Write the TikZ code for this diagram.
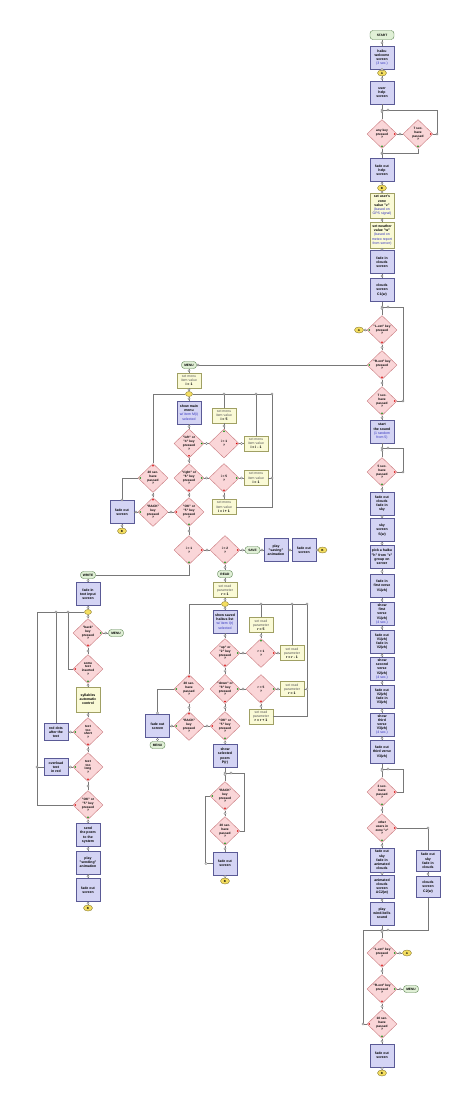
\documentclass[tikz,border=0pt]{standalone}
\usepackage{fontspec}
\setmainfont{Liberation Sans}
\usepackage{tikz}
\usetikzlibrary{shapes.geometric}
\usetikzlibrary{calc}
\usetikzlibrary{decorations.markings}

\definecolor{actfill}{RGB}{212,212,244}
\definecolor{actline}{RGB}{90,90,150}
\definecolor{setfill}{RGB}{250,250,214}
\definecolor{setline}{RGB}{160,160,100}
\definecolor{askfill}{RGB}{250,214,216}
\definecolor{askline}{RGB}{200,120,125}
\definecolor{endfill}{RGB}{224,240,214}
\definecolor{endline}{RGB}{90,130,80}
\definecolor{jumpfill}{RGB}{244,222,96}
\definecolor{jumpline}{RGB}{140,125,50}
\definecolor{wirecol}{RGB}{120,120,120}
\definecolor{notecol}{RGB}{50,50,190}

\newcommand{\notetxt}[1]{{\mdseries\color{notecol}#1}}
\newcommand{\softtxt}[1]{{\mdseries\color{black!65}#1}}
\newcommand{\markno}[2]{\fill[red!85!black] ($(#1.#2)!2.4pt!(#1.center)$) circle (0.9pt);}
\newcommand{\markyes}[2]{\fill[green!55!black] ($(#1.#2)!2.4pt!(#1.center)$) circle (0.9pt);}
\newcommand{\hole}[1]{\filldraw[draw=wirecol, fill=white, line width=0.3pt] (#1) circle (1.2pt);}

\begin{document}
\begin{tikzpicture}
 [ x=1pt, y=-1pt
 , every node/.style={font=\fontsize{3.5}{4.2}\selectfont\bfseries, align=center, inner sep=0.5pt}
 , action/.style={draw=actline, fill=actfill, minimum width=24pt, minimum height=23pt}
 , setter/.style={draw=setline, fill=setfill, minimum width=24pt, minimum height=15pt}
 , question/.style={diamond, draw=askline, fill=askfill, minimum width=30pt, minimum height=29pt, inner sep=0pt, font=\fontsize{3.2}{3.8}\selectfont\bfseries}
 , terminal/.style={draw=endline, fill=endfill, rounded corners=3pt, minimum width=15pt, minimum height=7pt, font=\fontsize{3.2}{3.8}\selectfont\bfseries}
 , jumper/.style={ellipse, draw=jumpline, fill=jumpfill, minimum width=9pt, minimum height=6pt, inner sep=0pt, font=\fontsize{3}{3}\selectfont\bfseries}
 , loopmark/.style={jumper, minimum width=7pt, minimum height=5pt}
 , wire/.style={draw=wirecol, line width=0.4pt}
 , link/.style={wire, postaction={decorate}, decoration={markings, mark=at position 0.5 with {\filldraw[draw=wirecol, fill=white, line width=0.3pt] (0,0) circle (1.2pt);}}}
 ]
  \fill[white] (0,0) rectangle (474,1106);
  \useasboundingbox (0,0) rectangle (474,1106);

  % main column
  \node[terminal, minimum width=24pt, minimum height=9pt] (start) at (382,35) {START};
  \node[action] (welcome) at (382,57.5) {haiku\\welcome\\screen\\\notetxt{(3 sec.)}};
  \node[jumper] (toA) at (382,73) {A};
  \node[action] (help) at (382,92.5) {user\\help\\screen};
  \node[question] (anykey) at (382,134) {any key\\pressed\\?};
  \node[question] (wait7) at (418,134) {7 sec.\\have\\passed\\?};
  \node[action] (fadehelp) at (382,170) {fade out\\help\\screen};
  \node[jumper] (toB) at (382,188) {B};
  \node[setter, minimum height=25pt] (zone) at (382,205.5) {set user's\\zone\\value "z"\\\notetxt{(based on}\\\notetxt{GPS signal)}};
  \node[setter, minimum height=26pt] (weather) at (382,235) {set weather\\value "w"\\\notetxt{(based on}\\\notetxt{meteo report}\\\notetxt{from server)}};
  \node[action] (fadein) at (382,262) {fade in\\clouds\\screen};
  \node[action] (clouds) at (382,290) {clouds\\screen\\C1(w)};
  \node[question] (lext) at (382,330) {"L-ext" key\\pressed\\?};
  \node[jumper] (lextA) at (359,330) {A};
  \node[question] (rext) at (382,365) {"R-ext" key\\pressed\\?};
  \node[question] (wait7b) at (382,401) {7 sec.\\have\\passed\\?};
  \node[action] (sound) at (382,431.5) {start\\the sound\\\notetxt{(1 random}\\\notetxt{from 5)}};
  \node[question] (wait5) at (382,472) {5 sec.\\have\\passed\\?};
  \node[action] (fadesky) at (382,503.5) {fade out\\clouds\\fade in\\sky};
  \node[action] (sky) at (382,530) {sky\\screen\\S(w)};
  \node[action] (pick) at (382,557) {pick a haiku\\"h" from "z"\\group on\\server};
  \node[action] (fadev1) at (382,586) {fade in\\first verse\\V1(zh)};
  \node[action] (showv1) at (382,614) {show\\first\\verse\\V1(zh)\\\notetxt{(4 sec.)}};
  \node[action] (fadev12) at (382,641.5) {fade out\\V1(zh)\\fade in\\V2(zh)};
  \node[action] (showv2) at (382,669) {show\\second\\verse\\V2(zh)\\\notetxt{(4 sec.)}};
  \node[action] (fadev23) at (382,696.5) {fade out\\V2(zh)\\fade in\\V3(zh)};
  \node[action] (showv3) at (382,724.5) {show\\third\\verse\\V3(zh)\\\notetxt{(4 sec.)}};
  \node[action] (fadev3) at (382,752) {fade out\\third verse\\V3(zh)};
  \node[question] (wait3) at (382,792) {3 sec.\\have\\passed\\?};
  \node[question] (others) at (382,828) {other\\users in\\zone "z"\\?};
  \node[action, minimum height=24pt] (fadeanim) at (382,860) {fade out\\sky\\fade in\\animated\\clouds};
  \node[action] (animclouds) at (382,886.5) {animated\\clouds\\screen\\AC2(w)};
  \node[action, minimum height=21pt] (fadeclouds) at (428,861) {fade out\\sky\\fade in\\clouds};
  \node[action, minimum height=21pt] (clouds2) at (428,887) {clouds\\screen\\C2(w)};
  \node[action] (bells) at (382,913.5) {play\\wind-bells\\sound};
  \node[question] (lext2) at (382,953) {"L-ext" key\\pressed\\?};
  \node[jumper] (lext2A) at (407,953) {A};
  \node[question] (rext2) at (382,989) {"R-ext" key\\pressed\\?};
  \node[terminal] (menu2) at (411,989) {MENU};
  \node[question] (wait10) at (382,1024) {10 sec.\\have\\passed\\?};
  \node[action] (fadeend) at (382,1055.5) {fade out\\screen};
  \node[jumper] (endB) at (382,1073) {B};

  % menu
  \node[terminal] (menu) at (189,365) {MENU};
  \node[setter] (seti1) at (189,380.5) {\softtxt{set menu}\\\softtxt{item value}\\i = 1};
  \node[loopmark] (loopm) at (189,394) {};
  \node[action] (mainmenu) at (189,412.5) {show main\\menu\\\notetxt{w/ item M(i)}\\\notetxt{selected}};
  \node[question] (left4) at (189,443.5) {"left" or\\"4" key\\pressed\\?};
  \node[question] (ione) at (224,443.5) {i = 1\\?};
  \node[setter] (seti5) at (224,415.5) {\softtxt{set menu}\\\softtxt{item value}\\i = 5};
  \node[setter] (setdec) at (256,443.5) {\softtxt{set menu}\\\softtxt{item value}\\i = i - 1};
  \node[question] (right6) at (189,478) {"right" or\\"6" key\\pressed\\?};
  \node[question] (ifive) at (224,478) {i = 5\\?};
  \node[setter] (setone) at (256,478) {\softtxt{set menu}\\\softtxt{item value}\\i = 1};
  \node[setter] (setinc) at (224,507) {\softtxt{set menu}\\\softtxt{item value}\\i = i + 1};
  \node[question] (ok1) at (189,512) {"OK" or\\"5" key\\pressed\\?};
  \node[question] (back1) at (153,512) {"BACK"\\key\\pressed\\?};
  \node[question] (wait20m) at (153,478) {20 sec.\\have\\passed\\?};
  \node[action] (fademenu) at (122,512) {fade out\\screen};
  \node[jumper] (menuB) at (122,531) {B};
  \node[question] (ichk1) at (189,550) {i = 1\\?};
  \node[question] (ichk2) at (225,550) {i = 2\\?};
  \node[terminal] (save) at (252.5,550) {SAVE};
  \node[action] (saving) at (276,550) {play\\"saving"\\animation};
  \node[action] (fadesave) at (304,550) {fade out\\screen};
  \node[jumper] (saveB) at (322.5,550) {B};

  % read
  \node[terminal] (read) at (225,574) {READ};
  \node[setter] (setr1) at (225,590) {\softtxt{set read}\\\softtxt{parameter}\\r = 1};
  \node[loopmark] (loopr) at (225,604) {};
  \node[action] (listing) at (225,621.5) {show saved\\haikus list\\\notetxt{w/ item I(r)}\\\notetxt{selected}};
  \node[question] (up2) at (225,653) {"up" or\\"2" key\\pressed\\?};
  \node[question] (rone) at (261,653) {r = 1\\?};
  \node[setter] (setr5) at (261,625) {\softtxt{set read}\\\softtxt{parameter}\\r = 5};
  \node[setter] (setrdec) at (292,653) {\softtxt{set read}\\\softtxt{parameter}\\r = r - 1};
  \node[question] (down8) at (225,689) {"down" or\\"8" key\\pressed\\?};
  \node[question] (rfive) at (261,689) {r = 5\\?};
  \node[setter] (setrone) at (292,689) {\softtxt{set read}\\\softtxt{parameter}\\r = 1};
  \node[setter] (setrinc) at (261,716.5) {\softtxt{set read}\\\softtxt{parameter}\\r = r + 1};
  \node[question] (ok2) at (225,726) {"OK" or\\"5" key\\pressed\\?};
  \node[question] (back2) at (189,726) {"BACK"\\key\\pressed\\?};
  \node[question] (wait20r) at (189,689) {20 sec.\\have\\passed\\?};
  \node[action] (faderead) at (157.5,726) {fade out\\screen};
  \node[terminal] (menur) at (157.5,745) {MENU};
  \node[action] (poem) at (225,756) {show\\selected\\poem\\P(r)};
  \node[question] (back3) at (225,796) {"BACK"\\key\\pressed\\?};
  \node[question] (wait20p) at (225,831) {20 sec.\\have\\passed\\?};
  \node[action] (fadepoem) at (225,863.5) {fade out\\screen};
  \node[jumper] (poemB) at (225,881) {B};

  % write
  \node[terminal] (write) at (88,575) {WRITE};
  \node[action] (fadewrite) at (88,594) {fade in\\text input\\screen};
  \node[loopmark] (loopw) at (88,612) {};
  \node[question] (backw) at (88,633) {"back"\\key\\pressed\\?};
  \node[terminal] (menuw) at (116,633) {MENU};
  \node[question] (some) at (88,669) {some\\text\\inserted\\?};
  \node[setter, minimum height=25pt] (syllables) at (88,699.5) {syllables\\automatic\\control};
  \node[question] (tooshort) at (88,732) {text\\too\\short\\?};
  \node[action, minimum height=17pt] (reddots) at (56,732) {red dots\\after the\\text};
  \node[question] (toolong) at (88,767) {text\\too\\long\\?};
  \node[action, minimum height=17pt] (overload) at (56,767) {overload\\text\\in red};
  \node[question] (okw) at (88,805) {"OK" or\\"5" key\\pressed\\?};
  \node[action] (send) at (88,835) {send\\the poem\\to the\\system};
  \node[action] (sending) at (88,862.5) {play\\"sending"\\animation};
  \node[action] (fadewrite2) at (88,890) {fade out\\screen};
  \node[jumper] (writeB) at (88,908) {B};

  % straight links
  \foreach \a/\b in {start/welcome, welcome/toA, toA/help, help/anykey, anykey/fadehelp,
    fadehelp/toB, toB/zone, zone/weather, weather/fadein, fadein/clouds, clouds/lext,
    lext/rext, rext/wait7b, wait7b/sound, sound/wait5, wait5/fadesky, fadesky/sky,
    sky/pick, pick/fadev1, fadev1/showv1, showv1/fadev12, fadev12/showv2, showv2/fadev23,
    fadev23/showv3, showv3/fadev3, fadev3/wait3, wait3/others, others/fadeanim,
    fadeanim/animclouds, animclouds/bells, bells/lext2, lext2/rext2, rext2/wait10,
    wait10/fadeend, fadeend/endB, anykey/wait7, lext/lextA, lext2/lext2A, rext2/menu2,
    fadeclouds/clouds2,
    menu/seti1, seti1/loopm, loopm/mainmenu, mainmenu/left4, left4/right6, right6/ok1,
    ok1/ichk1, left4/ione, ione/seti5, ione/setdec, right6/ifive, ifive/setone,
    ifive/setinc, ok1/back1, back1/wait20m, back1/fademenu, fademenu/menuB,
    ichk1/ichk2, ichk2/save, save/saving, saving/fadesave, fadesave/saveB, ichk2/read,
    read/setr1, setr1/loopr, loopr/listing, listing/up2, up2/down8, down8/ok2, ok2/poem,
    up2/rone, rone/setr5, rone/setrdec, down8/rfive, rfive/setrone, rfive/setrinc,
    ok2/back2, back2/wait20r, back2/faderead, faderead/menur,
    poem/back3, back3/wait20p, wait20p/fadepoem, fadepoem/poemB,
    write/fadewrite, fadewrite/loopw, loopw/backw, backw/some, some/syllables,
    syllables/tooshort, tooshort/toolong, toolong/okw, okw/send, send/sending,
    sending/fadewrite2, fadewrite2/writeB, backw/menuw, tooshort/reddots, toolong/overload}
    \draw[link] (\a) -- (\b);

  % loops and branches
  \draw[wire] (wait7.east) -| (437,110) -- (382,110);
  \draw[wire] (wait7.south) |- (382,153);
  \draw[wire] (wait7b.east) -| (403,307) -- (382,307);
  \draw[wire] (wait5.east) -| (403,448) -- (382,448);
  \draw[wire] (wait3.east) -| (403,769) -- (382,769);
  \draw[wire] (others.east) -| (fadeclouds.north);
  \draw[wire] (clouds2.south) |- (382,930);
  \draw[wire] (wait10.west) -| (363,930) -- (382,930);
  \draw[wire] (rext.west) -- (menu.east);

  \draw[wire] (wait20m.north) |- (loopm);
  \draw[wire] (loopm) -- (272,394) |- (setinc.east);
  \draw[wire] (seti5.north) -- (224,394);
  \draw[wire] (setdec.north) -- (256,394);
  \draw[wire] (setone.east) -- (272,478);
  \draw[wire] (wait20m.west) -| (fademenu.north);
  \draw[wire] (ichk1.south) |- (write.east);

  \draw[wire] (wait20r.north) |- (loopr);
  \draw[wire] (loopr) -- (307,604) |- (setrinc.east);
  \draw[wire] (setr5.north) -- (261,604);
  \draw[wire] (setrdec.north) -- (292,604);
  \draw[wire] (setrone.east) -- (307,689);
  \draw[wire] (wait20r.west) -| (faderead.north);
  \draw[wire] (wait20p.east) -| (244,773) -- (225,773);
  \draw[wire] (back3.west) -| (205,863.5) -- (fadepoem.west);

  \draw[wire] (okw.west) -| (37,612) -- (loopw);
  \draw[wire] (some.west) -| (68,612);
  \draw[wire] (reddots.north) -- (56,612);
  \draw[wire] (overload.west) -- (37,767);

  \foreach \p in {{382,110}, {388,110}, {382,153}, {382,307}, {388,307}, {382,448}, {388,448},
    {382,769}, {388,769}, {382,930}, {388,930}, {437,134}, {403,401}, {403,472},
    {224,394}, {256,394}, {272,478}, {272,394}, {122,500}, {261,604}, {292,604},
    {307,689}, {307,604}, {157.5,713}, {225,773}, {231,773}, {206,863.5}, {56,612},
    {68,612}, {37,767}, {363,1024}, {198,365}, {428,828}}
    \hole{\p};

  % exit marks
  \foreach \d/\s in {anykey/east, wait7/east, lext/south, rext/south, wait7b/east,
    wait5/east, wait3/east, others/east, lext2/south, rext2/south, wait10/west,
    left4/south, ione/east, right6/south, ifive/south, ok1/west, back1/north,
    wait20m/north, ichk1/east, ichk2/east, backw/south, some/west, tooshort/south,
    toolong/south, okw/west, up2/south, rone/east, down8/south, rfive/south, ok2/west,
    back2/north, wait20r/north, back3/south, wait20p/east}
    \markno{\d}{\s};
  \foreach \d/\s in {anykey/south, wait7/south, lext/west, rext/west, wait7b/south,
    wait5/south, wait3/south, others/south, lext2/east, rext2/east, wait10/south,
    left4/east, ione/north, right6/east, ifive/east, ok1/south, back1/west,
    wait20m/west, ichk1/south, ichk2/south, backw/east, some/south, tooshort/west,
    toolong/west, okw/south, up2/east, rone/north, down8/east, rfive/east, ok2/south,
    back2/west, wait20r/west, back3/west, wait20p/south}
    \markyes{\d}{\s};
\end{tikzpicture}
\end{document}
